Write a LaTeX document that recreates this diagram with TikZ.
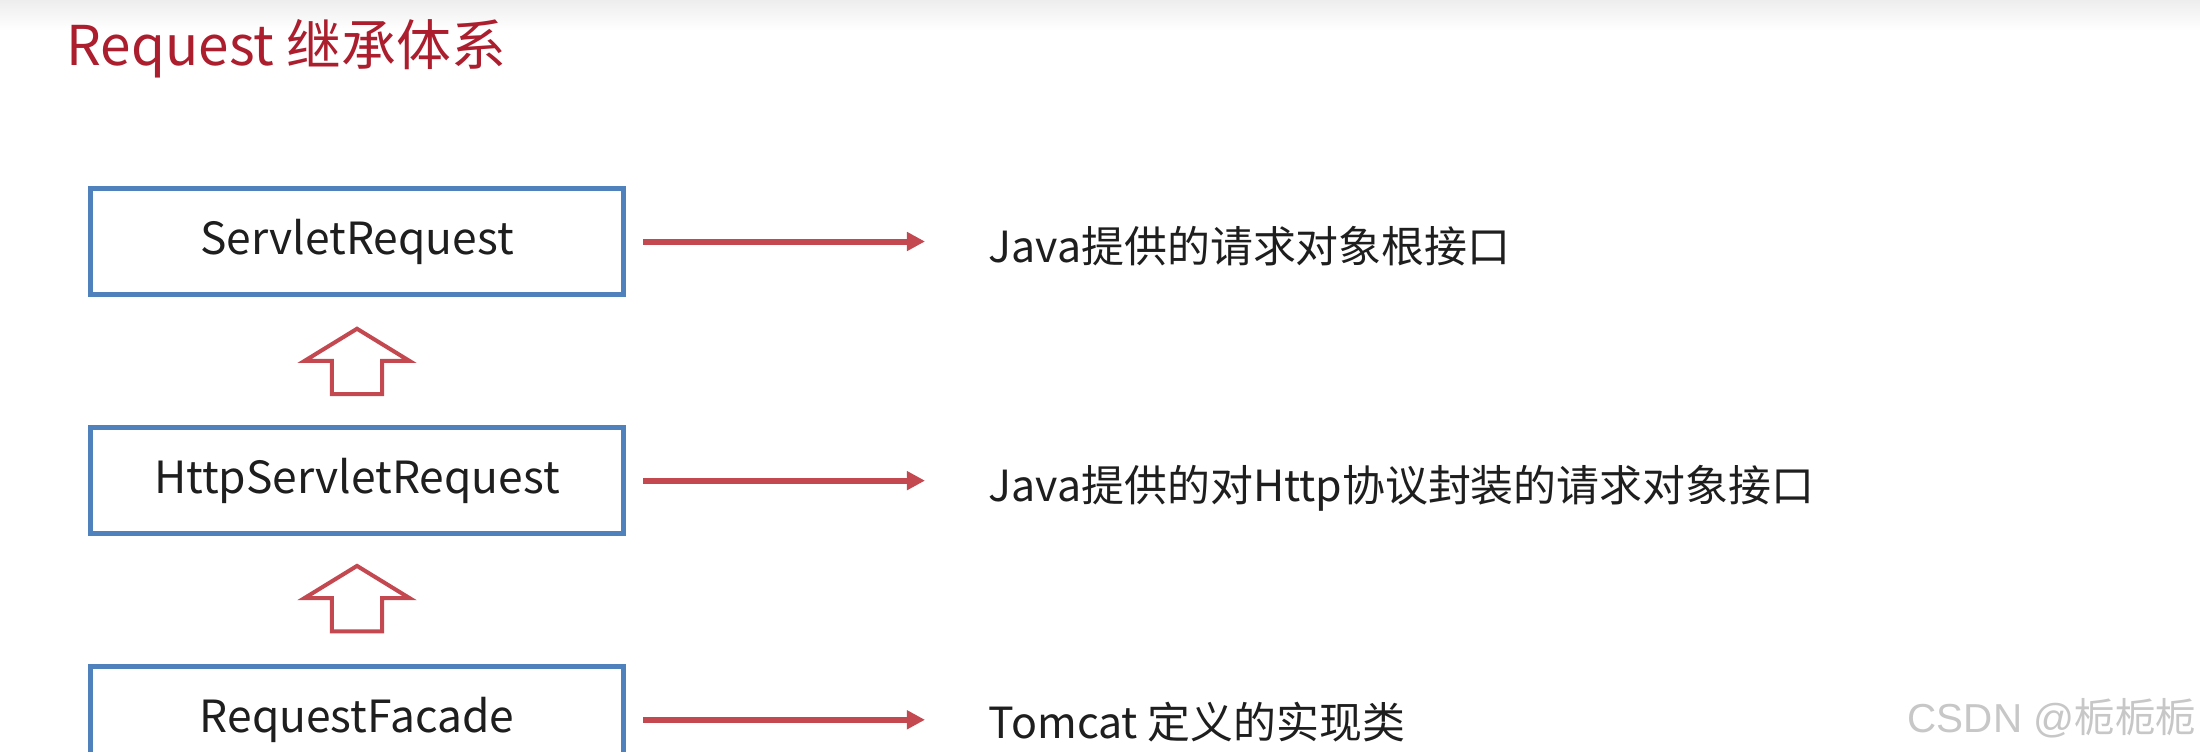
\documentclass[tikz,border=0pt]{standalone}
\usepackage{fontspec}
\setmainfont{Noto Sans CJK SC}
\newfontfamily\markfont{Liberation Sans}
\usepackage{xcolor}
\usepackage{tikz}
\usetikzlibrary{shapes, arrows.meta, positioning}
\usetikzlibrary{calc}
\definecolor{boxblue}{RGB}{79,129,189}
\definecolor{linkred}{RGB}{196,72,80}
\definecolor{titlered}{RGB}{172,30,45}
\definecolor{inkgray}{RGB}{30,30,30}

\begin{document}
\begin{tikzpicture}
  [
    x=0.01cm, y=-0.01cm,
    ClassBox/.style={rectangle, draw=boxblue, line width=0.5mm, fill=white, minimum width=53.3mm, minimum height=10.6mm, inner sep=0pt, text=inkgray, font=\fontsize{12.6pt}{15pt}\selectfont},
    Note/.style={anchor=base west, inner sep=0pt, text=inkgray, font=\fontsize{12.2pt}{15pt}\selectfont},
    Link/.style={draw=linkred, line width=0.6mm, -{Triangle[length=1.8mm, width=1.8mm]}, shorten <=1.7mm, shorten >=6.3mm},
    Extends/.style={single arrow, draw=linkred, line width=0.4mm, fill=white, rotate=90, anchor=tail, minimum height=5.4mm, minimum width=10.1mm, inner sep=2.3mm, single arrow head extend=2.75mm, single arrow tip angle=117}
  ]
  % Page
  \useasboundingbox (0,0) rectangle (2200,751);
  \clip (0,0) rectangle (2200,751);
  \fill[white] (0,0) rectangle (2200,751);
  \shade[top color=black!7, bottom color=white] (0,0) rectangle (2200,30);

  % Nodes
  \node[anchor=base west, inner sep=0pt, text=titlered, font=\fontsize{15.6pt}{18pt}\selectfont] (title) at (66,65) {Request 继承体系};

  \node[ClassBox] (sreq) at (357,241.5) {ServletRequest};
  \node[ClassBox, below=12.8mm of sreq] (hreq) {HttpServletRequest};
  \node[ClassBox, below=12.8mm of hreq] (facade) {RequestFacade};

  \node[Extends] (up1) at ($(hreq.north)+(0,-29)$) {};
  \node[Extends] (up2) at ($(facade.north)+(0,-31)$) {};

  \node[Note] (sreqnote) at (988,262) {Java提供的请求对象根接口};
  \node[Note] (hreqnote) at (988,501) {Java提供的对Http协议封装的请求对象接口};
  \node[Note] (facadenote) at (988,738) {Tomcat 定义的实现类};

  \node[anchor=base west, inner sep=0pt, text=black!22, font=\fontsize{11.5pt}{14pt}\selectfont] (mark) at (1907,732) {{\markfont CSDN @}栀栀栀};

  % Links
  \draw[Link] (sreq.east) -- (sreq.east -| sreqnote.west);
  \draw[Link] (hreq.east) -- (hreq.east -| hreqnote.west);
  \draw[Link] (facade.east) -- (facade.east -| facadenote.west);

\end{tikzpicture}
\end{document}
